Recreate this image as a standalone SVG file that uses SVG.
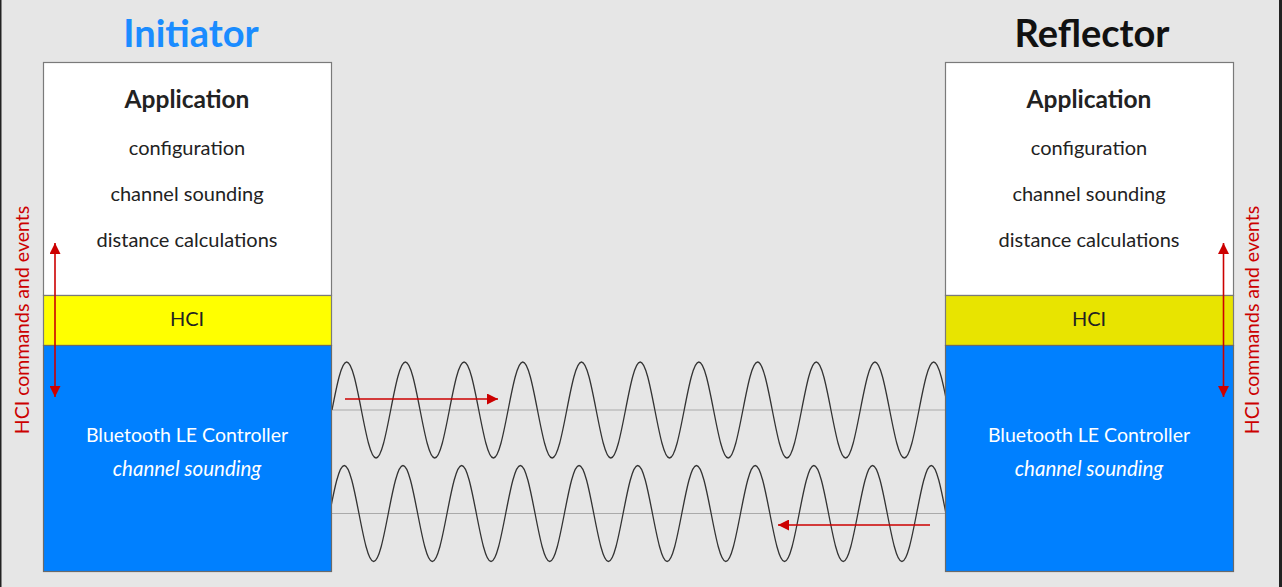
<svg xmlns="http://www.w3.org/2000/svg" width="1282" height="587" viewBox="0 0 1282 587">
<defs>
<style>
.bg{fill:#e6e6e6}
.app{fill:#ffffff;stroke:#7a7a7a;stroke-width:1.2}
.hci{stroke:#7a7a7a;stroke-width:1.2}
.ctl{fill:#0080ff;stroke:#6a6a6a;stroke-width:1.2}
text{font-family:Lato,"Noto Sans","Liberation Sans",sans-serif;text-anchor:middle}
.title{font-size:38px;font-weight:bold}
.h{font-size:24.5px;font-weight:bold;fill:#222}
.t{font-size:20px;fill:#222}
.w{font-size:19.5px;fill:#ffffff}
.wi{font-size:20.5px;fill:#ffffff;font-style:italic}
.side{font-size:19.5px;fill:#cc0000}
.wave{fill:none;stroke:#333;stroke-width:1.3}
.base{stroke:#aaaaaa;stroke-width:1.2}
.arr{stroke:#cc0000;stroke-width:1.6;fill:none;marker-end:url(#ah)}
.arr2{stroke:#cc0000;stroke-width:1.6;fill:none;marker-start:url(#ah);marker-end:url(#ah)}
</style>
<marker id="ah" viewBox="0 0 10 10" refX="10" refY="5" markerWidth="11" markerHeight="11" markerUnits="userSpaceOnUse" orient="auto-start-reverse">
<path d="M0,0 L10,5 L0,10 z" fill="#cc0000"/>
</marker>
</defs>
<rect class="bg" x="0" y="0" width="1282" height="587"/>
<rect x="0" y="0" width="1.5" height="587" fill="#222"/>
<rect x="1279" y="0" width="3" height="587" fill="#222"/>

<g id="waves">
<line class="base" x1="332" y1="410" x2="945" y2="410"/>
<line class="base" x1="332" y1="513.5" x2="945" y2="513.5"/>
<path class="wave" d="M332,410 c4.786,-24.59 9.364,-48 14.675,-48 s9.889,23.41 14.675,48 s9.364,48 14.675,48 s9.889,-23.41 14.675,-48 s9.364,-48 14.675,-48 s9.889,23.41 14.675,48 s9.364,48 14.675,48 s9.889,-23.41 14.675,-48 s9.364,-48 14.675,-48 s9.889,23.41 14.675,48 s9.364,48 14.675,48 s9.889,-23.41 14.675,-48 s9.364,-48 14.675,-48 s9.889,23.41 14.675,48 s9.364,48 14.675,48 s9.889,-23.41 14.675,-48 s9.364,-48 14.675,-48 s9.889,23.41 14.675,48 s9.364,48 14.675,48 s9.889,-23.41 14.675,-48 s9.364,-48 14.675,-48 s9.889,23.41 14.675,48 s9.364,48 14.675,48 s9.889,-23.41 14.675,-48 s9.364,-48 14.675,-48 s9.889,23.41 14.675,48 s9.364,48 14.675,48 s9.889,-23.41 14.675,-48 s9.364,-48 14.675,-48 s9.889,23.41 14.675,48 s9.364,48 14.675,48 s9.889,-23.41 14.675,-48 s9.364,-48 14.675,-48 s9.889,23.41 14.675,48 s9.364,48 14.675,48 s9.889,-23.41 14.675,-48 s9.364,-48 14.675,-48 s9.889,23.41 14.675,48 s9.364,48 14.675,48 s9.889,-23.41 14.675,-48 s9.364,-48 14.675,-48 s9.889,23.41 14.675,48"/>
<path class="wave" d="M329.6,513.5 c4.786,-24.59 9.364,-48 14.675,-48 s9.889,23.41 14.675,48 s9.364,48 14.675,48 s9.889,-23.41 14.675,-48 s9.364,-48 14.675,-48 s9.889,23.41 14.675,48 s9.364,48 14.675,48 s9.889,-23.41 14.675,-48 s9.364,-48 14.675,-48 s9.889,23.41 14.675,48 s9.364,48 14.675,48 s9.889,-23.41 14.675,-48 s9.364,-48 14.675,-48 s9.889,23.41 14.675,48 s9.364,48 14.675,48 s9.889,-23.41 14.675,-48 s9.364,-48 14.675,-48 s9.889,23.41 14.675,48 s9.364,48 14.675,48 s9.889,-23.41 14.675,-48 s9.364,-48 14.675,-48 s9.889,23.41 14.675,48 s9.364,48 14.675,48 s9.889,-23.41 14.675,-48 s9.364,-48 14.675,-48 s9.889,23.41 14.675,48 s9.364,48 14.675,48 s9.889,-23.41 14.675,-48 s9.364,-48 14.675,-48 s9.889,23.41 14.675,48 s9.364,48 14.675,48 s9.889,-23.41 14.675,-48 s9.364,-48 14.675,-48 s9.889,23.41 14.675,48 s9.364,48 14.675,48 s9.889,-23.41 14.675,-48 s9.364,-48 14.675,-48 s9.889,23.41 14.675,48 s9.364,48 14.675,48 s9.889,-23.41 14.675,-48 s9.364,-48 14.675,-48 s9.889,23.41 14.675,48 s9.364,48 14.675,48"/>
</g>

<g id="initiator">
<text class="title" x="191" y="47" fill="#1a8cff">Initiator</text>
<rect class="app" x="43.5" y="62.5" width="288" height="233"/>
<rect class="hci" x="43.5" y="295.5" width="288" height="50" fill="#ffff00"/>
<rect class="ctl" x="43.5" y="345.5" width="288" height="226"/>
<text class="h" x="187" y="108">Application</text>
<text class="t" x="187" y="155">configuration</text>
<text class="t" x="187" y="201">channel sounding</text>
<text class="t" x="187" y="247">distance calculations</text>
<text class="t" x="187" y="326">HCI</text>
<text class="w" x="187" y="442">Bluetooth LE Controller</text>
<text class="wi" x="187" y="476">channel sounding</text>
<text class="side" transform="translate(29,320) rotate(-90)">HCI commands and events</text>
</g>

<g id="reflector">
<text class="title" x="1092" y="47" fill="#111">Reflector</text>
<rect class="app" x="945.5" y="62.5" width="288" height="233"/>
<rect class="hci" x="945.5" y="295.5" width="288" height="50" fill="#e8e400"/>
<rect class="ctl" x="945.5" y="345.5" width="288" height="226"/>
<text class="h" x="1089" y="108">Application</text>
<text class="t" x="1089" y="155">configuration</text>
<text class="t" x="1089" y="201">channel sounding</text>
<text class="t" x="1089" y="247">distance calculations</text>
<text class="t" x="1089" y="326">HCI</text>
<text class="w" x="1089" y="442">Bluetooth LE Controller</text>
<text class="wi" x="1089" y="476">channel sounding</text>
<text class="side" transform="translate(1259,320) rotate(-90)">HCI commands and events</text>
</g>

<g id="connectors">
<line class="arr2" x1="55" y1="243" x2="55" y2="397"/>
<line class="arr2" x1="1223.5" y1="243" x2="1223.5" y2="397"/>
<line class="arr" x1="345" y1="399" x2="498" y2="399"/>
<line class="arr" x1="930" y1="525" x2="778" y2="525"/>
</g>
</svg>
